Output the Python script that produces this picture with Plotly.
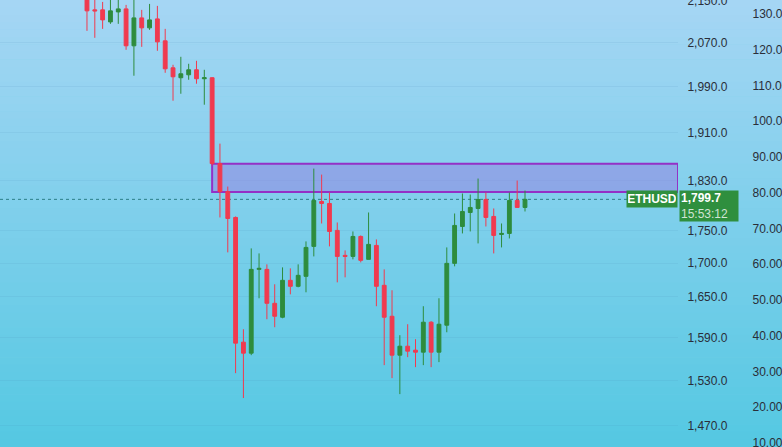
import math
import plotly.graph_objects as go

symbol = "ETHUSD"
last_time = "15:53:12"

opens = [2156.7, 2131.9, 2131.9, 2109.1, 2128.0, 2133.8, 2064.5, 2116.7, 2097.9, 2114.8,
         2073.7, 2024.3, 2006.4, 2011.7, 2020.7, 2004.6, 2006.4, 1858.2, 1812.3, 1770.8,
         1584.0, 1568.5, 1690.5, 1690.5, 1640.0, 1619.7, 1674.0, 1665.1, 1680.0, 1725.6,
         1796.3, 1793.1, 1750.4, 1711.8, 1710.2, 1741.0, 1705.7, 1727.1, 1666.6, 1621.1,
         1565.7, 1578.3, 1572.7, 1569.9, 1612.5, 1569.9, 1608.2, 1699.6, 1756.6, 1778.7,
         1785.1, 1799.5, 1772.4, 1744.1, 1745.7, 1797.9, 1786.7]
highs = [2168.3, 2164.4, 2147.1, 2154.8, 2158.6, 2141.4, 2152.9, 2131.9, 2143.3, 2139.5,
         2096.0, 2029.8, 2044.3, 2031.6, 2037.0, 2020.7, 2007.5, 1891.6, 1820.4, 1772.4,
         1602.4, 1722.5, 1714.8, 1698.1, 1668.1, 1693.5, 1692.0, 1698.1, 1733.3, 1849.9,
         1840.0, 1810.7, 1762.9, 1719.4, 1748.8, 1742.6, 1778.7, 1736.4, 1690.5, 1659.2,
         1593.9, 1609.6, 1588.2, 1635.7, 1614.0, 1647.4, 1724.0, 1777.1, 1809.1, 1807.5,
         1833.5, 1810.7, 1785.1, 1761.3, 1810.7, 1830.2, 1813.9]
lows = [2092.3, 2079.3, 2096.0, 2105.4, 2105.4, 2057.1, 2010.0, 2062.6, 2094.2, 2055.3,
        2015.3, 1965.6, 1977.9, 2002.8, 1995.7, 1958.6, 1854.9, 1770.8, 1716.4, 1540.7,
        1506.8, 1565.7, 1647.4, 1616.8, 1605.3, 1618.2, 1653.2, 1663.6, 1656.2, 1710.2,
        1761.3, 1725.6, 1671.0, 1678.5, 1705.7, 1701.1, 1705.7, 1635.7, 1551.8, 1533.9,
        1512.1, 1562.9, 1549.0, 1551.8, 1549.0, 1556.0, 1598.1, 1695.1, 1745.7, 1748.8,
        1730.2, 1756.6, 1714.8, 1724.0, 1737.9, 1786.7, 1780.3]
closes = [2130.0, 2130.0, 2112.9, 2130.0, 2133.8, 2064.5, 2116.7, 2097.9, 2112.9, 2071.8,
          2022.5, 2008.1, 2013.5, 2020.7, 2004.6, 2006.4, 1858.2, 1812.3, 1769.2, 1582.6,
          1568.5, 1690.5, 1692.0, 1640.0, 1621.1, 1674.0, 1665.1, 1681.5, 1724.0, 1797.9,
          1793.1, 1748.8, 1710.2, 1710.2, 1741.0, 1704.2, 1728.7, 1665.1, 1619.7, 1565.7,
          1578.3, 1571.3, 1569.9, 1612.5, 1569.9, 1609.6, 1699.6, 1758.2, 1780.3, 1786.7,
          1799.5, 1770.8, 1742.6, 1745.7, 1797.9, 1786.7, 1799.7]

price_ticks = [1470, 1530, 1590, 1650, 1700, 1750, 1830, 1910, 1990, 2070, 2150]
osc_ticks = [10, 20, 30, 40, 50, 60, 70, 80, 90, 100, 110, 120, 130]

zone_start = 16
zone_low = 1811.5
zone_high = 1858.0

GREEN = "#2e8c3d"
RED = "#f03a4f"
LABEL_GREEN = "#2f8f3e"

W, H = 782, 447
PLOT_RIGHT = 678
x_min, x_max = -11.12, 75.56

idx = list(range(len(opens)))

fig = go.Figure()

fig.add_trace(go.Candlestick(
    x=idx, open=opens, high=highs, low=lows, close=closes,
    increasing=dict(line=dict(color=GREEN, width=1), fillcolor=GREEN),
    decreasing=dict(line=dict(color=RED, width=1), fillcolor=RED),
    whiskerwidth=0, hoverinfo="skip", showlegend=False,
))
# empty trace so that the secondary (oscillator) scale is drawn
fig.add_trace(go.Scatter(x=[], y=[], yaxis="y2", showlegend=False, hoverinfo="skip"))

# gradient background bands
top = (166, 214, 244)
bot = (84, 200, 226)
n = 60
shapes = []
for i in range(n):
    t = (i + 0.5) / n
    c = tuple(int(round(top[k] + (bot[k] - top[k]) * t)) for k in range(3))
    shapes.append(dict(type="rect", xref="paper", yref="paper",
                       x0=0, x1=1, y0=1 - (i + 1) / n, y1=1 - i / n + 0.001,
                       fillcolor="rgb(%d,%d,%d)" % c, line=dict(width=0), layer="below"))

# supply zone
shapes.append(dict(type="rect", xref="x", yref="y", x0=zone_start, x1=x_max,
                   y0=zone_low, y1=zone_high,
                   fillcolor="rgba(150,125,225,0.5)",
                   line=dict(color="#9431c6", width=2), layer="between"))
# last price dotted line
shapes.append(dict(type="line", xref="x", yref="y", x0=x_min, x1=x_max,
                   y0=closes[-1], y1=closes[-1],
                   line=dict(color="#2b7f88", width=1, dash="dot"), layer="between"))

axis_font = dict(family="Liberation Sans, Arial, sans-serif", size=12, color="#2a2e39")
label_font = dict(family="Liberation Sans, Arial, sans-serif", size=12, color="white")

fig.update_layout(
    width=W, height=H,
    margin=dict(l=0, r=0, t=0, b=0, autoexpand=False),
    paper_bgcolor="rgb(125,207,235)",
    plot_bgcolor="rgba(0,0,0,0)",
    shapes=shapes,
    showlegend=False,
    boxgap=0.3,
    xaxis=dict(domain=[0, PLOT_RIGHT / W], range=[x_min, x_max], showgrid=False,
               showticklabels=False, zeroline=False, showline=False, ticks="",
               rangeslider=dict(visible=False), fixedrange=True, automargin=False),
    yaxis=dict(type="log", side="right", range=[3.15905, 3.3326],
               tickvals=price_ticks, tickformat=",.1f",
               showgrid=True, gridcolor="rgba(70,140,185,0.11)", gridwidth=1,
               zeroline=False, showline=False,
               ticks="outside", ticklen=6, tickcolor="rgba(0,0,0,0)",
               tickfont=axis_font, fixedrange=True, automargin=False,
               ticklabeloverflow="allow"),
    yaxis2=dict(overlaying="y", side="right", anchor="free", position=0.961,
                range=[8.88, 133.9], tickvals=osc_ticks, tickformat=".2f",
                showgrid=False, zeroline=False, showline=False, ticks="",
                tickfont=axis_font, fixedrange=True, automargin=False,
                autoshift=False, ticklabeloverflow="allow"),
    annotations=[
        dict(xref="paper", yref="y", x=651.5 / W, y=math.log10(closes[-1]),
             text="<b>%s</b>" % symbol, showarrow=False,
             xanchor="center", yanchor="middle",
             bgcolor=LABEL_GREEN, width=48, height=14, borderpad=1,
             font=label_font),
        dict(xref="paper", yref="y", x=708.5 / W, y=math.log10(closes[-1]), yshift=-7,
             text="<b>%s</b><br><span style='color:rgba(255,255,255,0.78)'>%s</span>"
                  % (format(closes[-1], ",.1f"), last_time),
             showarrow=False, xanchor="center", yanchor="middle", align="left",
             bgcolor=LABEL_GREEN, width=56, height=28, borderpad=1,
             font=label_font),
    ],
)

fig.write_html("out.html")
